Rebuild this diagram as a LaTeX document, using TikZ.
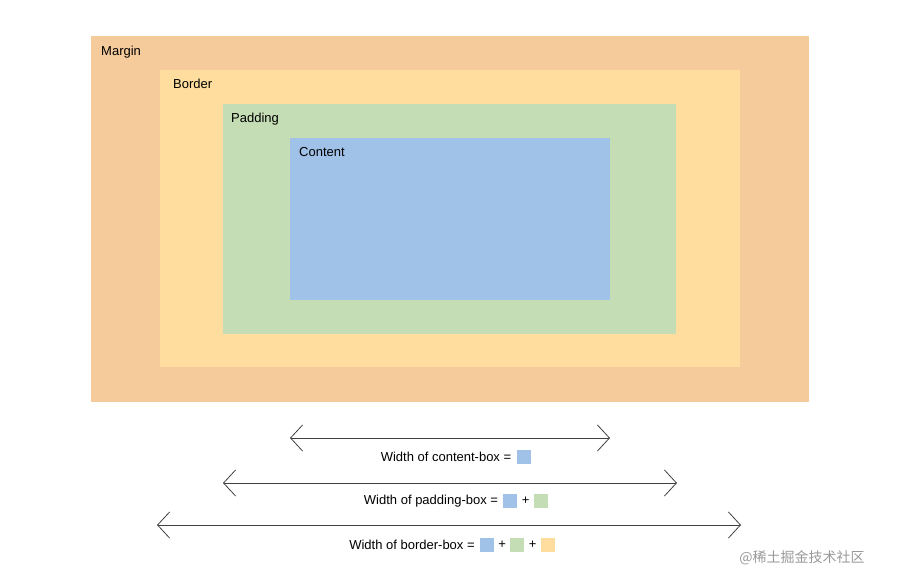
\documentclass[tikz,border=0pt]{standalone}
\usepackage{fontspec}
\setmainfont{Liberation Sans}
\newfontfamily\cjk{Noto Sans CJK SC}
\usetikzlibrary{positioning,arrows.meta}
\definecolor{marginc}{HTML}{F6CB9C}
\definecolor{borderc}{HTML}{FEDD9E}
\definecolor{paddingc}{HTML}{C5DDB4}
\definecolor{contentc}{HTML}{A0C2E8}
\tikzset{
  box/.style={rectangle, inner sep=0pt, anchor=north west},
  boxlabel/.style={anchor=north west, inner sep=0pt, font=\fontsize{13}{15}\selectfont},
  span/.style={draw=black!75, line width=0.8pt, {Straight Barb[length=12pt,width=26pt,line width=0.8pt]}-{Straight Barb[length=12pt,width=26pt,line width=0.8pt]}},
  caption/.style={font=\fontsize{13}{15}\selectfont, inner sep=1pt},
  swatch/.style={rectangle, inner sep=0pt, minimum size=14pt}
}
\begin{document}
\begin{tikzpicture}[x=1pt,y=-1pt]
  \useasboundingbox (0,0) rectangle (900,588);

  \node [box, fill=marginc, minimum width=718pt, minimum height=366pt] at (91,36) (margin) {};
  \node [box, fill=borderc, minimum width=580pt, minimum height=297pt] at (160,70) (border) {};
  \node [box, fill=paddingc, minimum width=453pt, minimum height=230pt] at (223,104) (padding) {};
  \node [box, fill=contentc, minimum width=320pt, minimum height=162pt] at (290,138) (content) {};

  \node [boxlabel] at (101,46) {Margin};
  \node [boxlabel] at (173,79) {Border};
  \node [boxlabel] at (231,113) {Padding};
  \node [boxlabel] at (299,147) {Content};

  % widths
  \coordinate (c1) at (290,438); \coordinate (c2) at (610,438);
  \coordinate (p1) at (223,483); \coordinate (p2) at (677,483);
  \coordinate (b1) at (157,525); \coordinate (b2) at (741,525);
  \draw [span] (c1) -- (c2);
  \draw [span] (p1) -- (p2);
  \draw [span] (b1) -- (b2);

  \node [caption] at (446,457) (ccap) {Width of content-box =};
  \node [swatch, fill=contentc, right=4pt of ccap] (cs1) {};

  \node [caption] at (431,501) (pcap) {Width of padding-box =};
  \node [swatch, fill=contentc, right=4pt of pcap] (ps1) {};
  \node [caption, right=3pt of ps1] (pplus1) {+};
  \node [swatch, fill=paddingc, right=3pt of pplus1] (ps2) {};

  \node [caption] at (412,545) (bcap) {Width of border-box =};
  \node [swatch, fill=contentc, right=4pt of bcap] (bs1) {};
  \node [caption, right=3pt of bs1] (bplus1) {+};
  \node [swatch, fill=paddingc, right=3pt of bplus1] (bs2) {};
  \node [caption, right=3pt of bs2] (bplus2) {+};
  \node [swatch, fill=borderc, right=3pt of bplus2] (bs3) {};

  \node [font=\cjk\fontsize{14}{16}\selectfont, text=black!40] at (802,558) (mark) {@稀土掘金技术社区};
\end{tikzpicture}
\end{document}
